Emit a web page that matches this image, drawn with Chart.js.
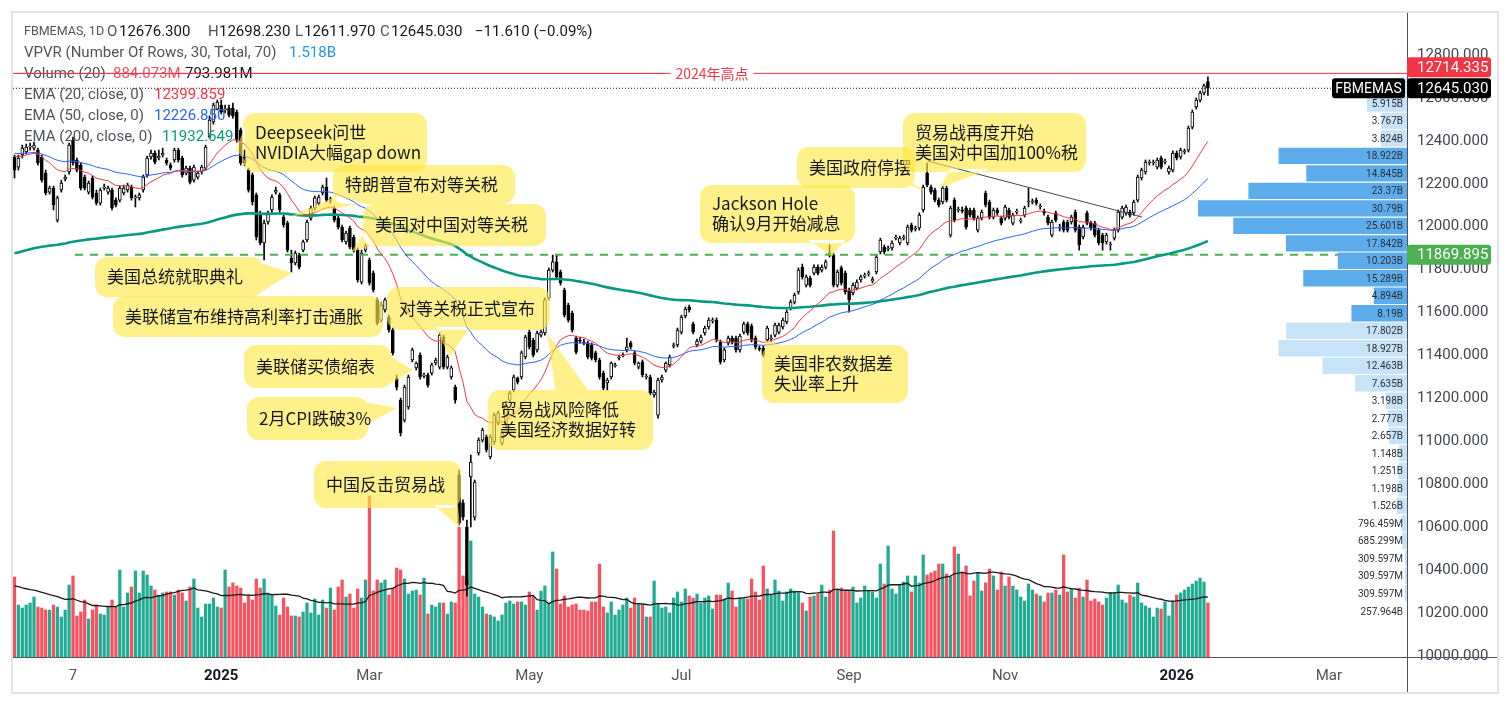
<!DOCTYPE html>
<html>
<head>
<meta charset="utf-8">
<script src="https://cdn.jsdelivr.net/npm/chart.js@4.4.1/dist/chart.umd.min.js"></script>
<style>
  html, body { margin: 0; padding: 0; background: #ffffff; overflow: hidden; }
  canvas { display: block; background: #ffffff; }
</style>
</head>
<body>
<canvas id="chart" width="1509" height="705"></canvas>
<script>
// Daily OHLC (one value per trading day, left to right)
const opens = [12325,12278,12334,12348,12371,12366,12357,12325,12250,12161,
12180,12031,12171,12222,12255,12404,12311,12287,12231,12161,
12227,12157,12110,12180,12161,12171,12124,12124,12157,12171,
12185,12134,12134,12171,12241,12325,12343,12320,12334,12311,
12287,12311,12357,12320,12250,12273,12217,12231,12255,12273,
12418,12488,12548,12567,12544,12553,12553,12534,12450,12325,
12264,12241,12148,12064,11924,12022,12078,12161,12148,12045,
12017,11854,11831,11868,11891,11938,12040,12087,12110,12157,
12185,12124,12087,12040,11998,11929,11994,11952,11891,11742,
11891,11845,11784,11659,11565,11612,11579,11519,11295,11192,
11099,11160,11379,11342,11402,11304,11309,11318,11365,11346,
11486,11346,11300,11253,10843,10713,10601,10834,10647,10946,
11006,11020,10927,10997,11085,10992,11076,11192,11239,11295,
11300,11393,11509,11472,11426,11495,11505,11668,11798,11836,
11789,11705,11635,11598,11481,11472,11463,11458,11449,11412,
11379,11318,11272,11300,11351,11388,11398,11426,11458,11412,
11346,11370,11300,11300,11216,11122,11286,11332,11356,11444,
11449,11509,11584,11626,11547,11449,11467,11505,11533,11561,
11565,11463,11379,11458,11481,11481,11426,11509,11547,11537,
11481,11435,11435,11472,11477,11495,11509,11533,11556,11621,
11649,11696,11812,11728,11761,11784,11812,11798,11812,11877,
11868,11728,11808,11784,11705,11691,11714,11752,11770,11780,
11747,11789,11882,11905,11896,11901,11947,11924,11947,11924,
12008,11989,11994,12078,12250,12185,12171,12124,12115,12180,
11961,12124,12078,12078,12087,12078,12078,11984,12040,12157,
12115,12045,12078,12040,12040,12078,12017,12068,12026,12054,
12115,12115,12124,12092,12073,12045,11961,12064,11994,12022,
12022,12022,12068,11998,11952,12064,12017,12017,11984,11961,
11929,11915,11947,11984,12045,12064,12068,12064,12124,12227,
12255,12297,12297,12278,12320,12301,12255,12264,12343,12325,
12348,12357,12464,12558,12590,12623,12676.3];

const highs = [12334,12334,12380,12385,12390,12394,12366,12334,12264,12189,
12189,12143,12217,12241,12390,12418,12320,12297,12241,12213,
12236,12171,12180,12199,12189,12180,12134,12189,12194,12203,
12194,12148,12157,12241,12329,12357,12353,12357,12366,12320,
12297,12366,12366,12329,12283,12283,12287,12259,12287,12380,
12516,12576,12590,12590,12567,12567,12576,12544,12460,12357,
12273,12250,12157,12073,12031,12073,12148,12185,12157,12054,
12026,11891,11887,11877,11938,12031,12096,12143,12148,12194,
12227,12138,12096,12050,12008,11980,12003,11961,11901,11891,
11919,11854,11794,11668,11649,11668,11588,11528,11309,11202,
11262,11309,11435,11370,11412,11318,11318,11365,11388,11505,
11495,11402,11351,11262,10866,10727,10633,10936,10820,11016,
11062,11030,11030,11132,11141,11048,11178,11234,11309,11300,
11421,11495,11519,11481,11514,11519,11668,11808,11868,11868,
11798,11714,11644,11607,11491,11486,11477,11467,11458,11421,
11388,11328,11295,11370,11365,11402,11412,11481,11467,11421,
11370,11379,11314,11309,11239,11295,11309,11370,11402,11458,
11528,11588,11626,11635,11556,11477,11495,11537,11575,11575,
11575,11472,11435,11491,11491,11491,11500,11556,11556,11547,
11491,11444,11444,11537,11495,11551,11551,11575,11612,11659,
11691,11808,11826,11775,11770,11822,11822,11822,11845,11915,
11877,11798,11817,11794,11714,11738,11752,11775,11784,11794,
11766,11868,11947,11915,11910,11934,11961,11956,11961,12008,
12017,12003,12064,12194,12297,12194,12180,12134,12189,12189,
12096,12134,12092,12092,12096,12087,12087,12050,12078,12166,
12124,12087,12087,12050,12101,12087,12064,12082,12040,12096,
12180,12129,12134,12106,12082,12054,12031,12073,12012,12031,
12031,12054,12078,12008,12008,12073,12026,12026,11994,11970,
11970,11929,11994,12078,12096,12101,12078,12124,12241,12273,
12311,12311,12311,12320,12329,12315,12283,12353,12353,12366,
12362,12469,12544,12600,12632,12665,12698.23];

const lows = [12227,12264,12320,12339,12357,12357,12287,12208,12148,12152,
12078,12022,12161,12213,12245,12287,12255,12171,12171,12152,
12129,12101,12101,12171,12152,12078,12092,12115,12148,12161,
12124,12092,12124,12161,12231,12315,12292,12311,12325,12287,
12264,12301,12301,12231,12241,12199,12208,12222,12245,12264,
12413,12478,12544,12525,12530,12511,12506,12394,12287,12283,
12161,12101,11938,11915,11845,12012,12068,12152,12068,11998,
11882,11789,11822,11803,11882,11929,12031,12078,12101,12148,
12115,12110,12022,11989,11929,11919,11896,11882,11742,11733,
11882,11728,11696,11542,11556,11602,11509,11402,11239,11025,
11090,11150,11370,11332,11290,11295,11253,11309,11356,11337,
11337,11337,11290,11178,10610,10633,10279,10601,10633,10936,
10997,10950,10918,10987,11076,10983,11067,11183,11230,11267,
11290,11384,11430,11393,11416,11486,11495,11659,11789,11756,
11728,11579,11556,11509,11407,11458,11449,11384,11379,11370,
11290,11239,11239,11290,11346,11379,11393,11416,11430,11356,
11337,11300,11290,11216,11206,11108,11276,11323,11346,11435,
11440,11500,11575,11602,11500,11440,11458,11495,11523,11551,
11463,11360,11370,11449,11454,11416,11416,11500,11495,11463,
11430,11421,11393,11463,11467,11486,11500,11523,11547,11612,
11640,11686,11756,11719,11719,11775,11775,11789,11803,11859,
11719,11719,11728,11686,11602,11682,11705,11742,11761,11770,
11738,11780,11873,11873,11887,11891,11938,11915,11938,11915,
11975,11980,11984,12068,12185,12152,12115,12092,12106,12115,
11952,12022,12068,12064,11989,12045,12031,11975,12031,12092,
12036,12036,12054,12008,12031,12036,12008,12059,12017,12045,
12092,12106,12101,12082,12054,12008,11952,12022,11980,11975,
11975,12012,11975,11891,11943,12008,11984,11952,11915,11891,
11919,11891,11938,11975,12036,12054,12045,12054,12115,12217,
12245,12287,12287,12269,12269,12292,12245,12255,12311,12315,
12339,12348,12455,12548,12581,12614,12611.97];

const closes = [12264,12320,12366,12371,12376,12380,12297,12217,12157,12180,
12101,12134,12203,12231,12380,12297,12264,12180,12180,12203,
12138,12110,12171,12185,12180,12087,12101,12180,12180,12194,
12134,12138,12148,12231,12320,12343,12301,12329,12343,12297,
12273,12357,12311,12241,12273,12208,12278,12250,12278,12371,
12497,12567,12581,12534,12548,12520,12516,12404,12297,12297,
12171,12115,11952,11924,12017,12064,12138,12171,12078,12008,
11891,11831,11877,11812,11929,12022,12087,12134,12138,12185,
12124,12129,12031,11998,11938,11970,11905,11891,11752,11877,
11910,11738,11705,11551,11635,11659,11519,11412,11253,11039,
11253,11300,11426,11365,11300,11309,11262,11356,11379,11495,
11346,11393,11342,11192,10619,10647,10330,10904,10810,11006,
11053,10960,11020,11122,11132,11039,11169,11225,11300,11276,
11412,11486,11440,11402,11505,11509,11659,11798,11836,11766,
11738,11588,11565,11519,11416,11467,11458,11393,11388,11379,
11300,11248,11286,11365,11356,11393,11402,11440,11440,11365,
11365,11309,11304,11225,11230,11286,11300,11365,11393,11449,
11519,11579,11616,11612,11509,11467,11486,11528,11565,11565,
11472,11370,11426,11481,11463,11426,11491,11547,11505,11472,
11440,11430,11402,11528,11481,11542,11542,11565,11602,11649,
11682,11798,11766,11766,11728,11812,11784,11812,11836,11868,
11728,11789,11738,11696,11659,11728,11742,11766,11775,11784,
11756,11859,11938,11882,11901,11924,11952,11947,11952,11998,
11984,11994,12054,12185,12194,12161,12124,12101,12180,12124,
12087,12031,12082,12073,11998,12054,12040,12040,12068,12101,
12045,12078,12064,12017,12092,12045,12054,12073,12031,12087,
12120,12120,12110,12096,12064,12017,12022,12031,11998,11984,
11984,12045,11984,11915,11998,12017,11994,11961,11924,11924,
11961,11919,11984,12068,12087,12092,12054,12115,12231,12264,
12301,12301,12301,12311,12278,12306,12273,12343,12320,12357,
12353,12460,12534,12590,12623,12656.64,12645.03];

// Daily volume, in millions
const volumes = [1176,764,720,764,794,882,735,720,691,691,
764,735,588,691,1058,1191,603,662,838,559,
691,764,632,617,735,838,735,1279,735,941,
1029,1264,941,1264,1205,1044,985,911,941,956,
956,911,985,941,823,1029,1147,720,588,779,
779,867,735,720,1279,1029,1088,1044,1014,794,
911,838,1147,1014,1147,941,911,750,617,867,
735,603,603,588,662,794,647,853,617,838,
720,1014,691,1029,1132,882,926,720,1000,867,
1132,2367,970,1132,1088,1132,911,1014,1308,1279,
1147,926,970,985,911,1161,632,764,735,794,
794,632,809,794,1911,1191,1132,1705,926,882,
735,632,617,588,529,617,794,823,779,809,
809,764,956,882,691,970,1044,794,1544,1294,
779,897,735,764,779,691,691,676,809,809,
1367,735,647,809,617,691,764,867,720,867,
779,764,588,588,1117,779,720,735,647,867,
956,809,1000,897,867,926,794,867,897,706,
911,911,853,1088,970,735,867,853,853,1147,
956,838,1338,1000,911,1132,970,823,956,1000,
970,941,794,676,882,897,926,1058,882,985,
1852,985,1014,970,970,1029,794,867,1044,970,
956,867,1367,1073,1632,1000,926,1058,1103,1191,
956,1191,1088,1499,1205,1235,1264,1367,1367,1220,
1176,1617,1514,1250,1338,897,1117,1235,970,1088,
1294,1191,985,1250,1044,1176,1044,985,882,823,
1073,985,926,897,809,941,941,985,911,1499,
956,1000,867,1014,882,1132,823,853,809,764,
867,941,941,1058,838,794,911,882,1088,794,
750,720,588,720,706,809,603,809,911,941,
985,1029,1073,1117,1161,1103,793.981];

// Indicator values just before the first visible bar
const ema20Seed = 12334;
const ema50Seed = 12345;
const ema200Seed = 11872;
const volMaSeed = 1040;

// Time axis labels (bar index -> label)
const tickIdx = [15, 53, 91, 132, 171, 214, 254, 298, 337];
const tickText = ['7', '2025', 'Mar', 'May', 'Jul', 'Sep', 'Nov', '2026', 'Mar'];
const priceTicks = [10000, 10200, 10400, 10600, 10800, 11000, 11200, 11400, 11600, 11800, 12000, 12200, 12400, 12600, 12800];

// Volume profile (visible range, 30 rows): row centre price and volume in billions
const profRows = [12656, 12574.5, 12493, 12411.5, 12330, 12248.5, 12167, 12085.5, 12004, 11922.5,
  11841, 11759.5, 11678, 11596.5, 11515, 11433.5, 11352, 11270.5, 11189, 11107.5,
  11026, 10944.5, 10863, 10781.5, 10700, 10618.5, 10537, 10455.5, 10374, 10292.5];
const profVol = [1.518, 5.915, 3.767, 3.824, 18.922, 14.845, 23.37, 30.79, 25.601, 17.842,
  10.203, 15.289, 4.894, 8.19, 17.802, 18.927, 12.463, 7.635, 3.198, 2.777,
  2.657, 1.148, 1.251, 1.198, 1.526, 0.796459, 0.685299, 0.309597, 0.309597, 0.309597];
const valueAreaRows = [4, 13];
const profTotalText = '257.964B';

// Horizontal levels and the drawn trend line
const high2024 = 12714.335;
const supportLevel = 11869.895;
const supportStartIdx = 15.5;
const trendIdx = [234.2, 289.1];
const trendPrice = [12306, 12045];

// Legend texts as shown in the chart header
const legendEma = ['12399.859', '12226.850', '11932.649'];
const legendVpvr = '1.518B';
const legendVolMa = '884.073M';

// Callouts: box [x, y, w, h], text lines, tail [base1, tip, base2]
const callouts = [
  { box: [243, 113, 184, 59], lines: ['Deepseek问世', 'NVIDIA大幅gap down'], tail: [[245, 126], [236, 150], [245, 160]] },
  { box: [333, 165, 182, 39], lines: ['特朗普宣布对等关税'], tail: [[338, 196], [289, 217], [364, 203]] },
  { box: [363, 204, 183, 42], lines: ['美国对中国对等关税'], tail: [[365, 232], [351, 252], [374, 245]] },
  { box: [95, 257, 168, 40], lines: ['美国总统就职典礼'], tail: [[258, 262], [292, 273], [258, 294]] },
  { box: [113, 296, 270, 41], lines: ['美联储宣布维持高利率打击通胀'], tail: null },
  { box: [387, 287, 163, 43], lines: ['对等关税正式宣布'], tail: [[436, 327], [449, 357], [470, 327]] },
  { box: [244, 345, 148, 43], lines: ['美联储买债缩表'], tail: [[388, 355], [413, 370], [388, 385]] },
  { box: [247, 397, 121, 43], lines: ['2月CPI跌破3%'], tail: [[364, 402], [397, 408], [364, 426]] },
  { box: [314, 461, 147, 47], lines: ['中国反击贸易战'], tail: [[434, 505], [460, 528], [458, 505]] },
  { box: [488, 390, 165, 60], lines: ['贸易战风险降低', '美国经济数据好转'], tail: [[556, 393], [547, 333], [590, 393]] },
  { box: [700, 185, 155, 58], lines: ['Jackson Hole', '确认9月开始减息'], tail: [[808, 240], [832, 256], [845, 240]] },
  { box: [797, 147, 118, 41], lines: ['美国政府停摆'], tail: [[905, 178], [926, 192], [912, 186]] },
  { box: [903, 113, 183, 59], lines: ['贸易战再度开始', '美国对中国加100%税'], tail: [[950, 169], [940, 188], [990, 169]] },
  { box: [762, 345, 146, 58], lines: ['美国非农数据差', '失业率上升'], tail: [[768, 350], [764, 340], [792, 348]] }
];

const FONT = 'Roboto, "Liberation Sans", sans-serif';
const CJK = '"Noto Sans CJK SC", "Noto Sans", sans-serif';
const UP_VOL = '#22AB94';
const DOWN_VOL = '#F7525F';

function ema(values, period, seed) {
  const k = 2 / (period + 1);
  let prev = seed;
  return values.map(v => { prev = prev + k * (v - prev); return prev; });
}

function sma(values, n, seed) {
  return values.map((v, i) => {
    let s = 0;
    for (let j = i - n + 1; j <= i; j++) s += j < 0 ? seed : values[j];
    return s / n;
  });
}

function fmtProf(v) {
  return v >= 1 ? parseFloat(v.toFixed(3)) + 'B' : (v * 1000).toFixed(3) + 'M';
}

const idx = closes.map((c, i) => i);
const isUp = closes.map((c, i) => c >= opens[i]);
const ema20 = ema(closes, 20, ema20Seed);
const ema50 = ema(closes, 50, ema50Seed);
const ema200 = ema(closes, 200, ema200Seed);
const volMa = sma(volumes, 20, volMaSeed);
const last = closes.length - 1;
const lastClose = closes[last];
const change = lastClose - closes[last - 1];
const changePct = change / closes[last - 1] * 100;

const X_MIN = -0.385, X_MAX = 357.05;
const Y_MIN = 9995.3, Y_MAX = 12995.7;

function roundRect(ctx, x, y, w, h, r) {
  ctx.moveTo(x + r, y);
  ctx.arcTo(x + w, y, x + w, y + h, r);
  ctx.arcTo(x + w, y + h, x, y + h, r);
  ctx.arcTo(x, y + h, x, y, r);
  ctx.arcTo(x, y, x + w, y, r);
  ctx.closePath();
}

const overlay = {
  id: 'overlay',
  afterDraw(chart) {
    const ctx = chart.ctx;
    const ys = chart.scales.y;
    const yp = chart.scales.yProf;
    ctx.save();

    // frame and scale borders
    ctx.strokeStyle = '#E0E3EB';
    ctx.lineWidth = 2;
    ctx.strokeRect(12, 12, 1486, 681);
    ctx.strokeStyle = '#50535E';
    ctx.lineWidth = 1;
    ctx.beginPath();
    ctx.moveTo(13, 657.5); ctx.lineTo(1497, 657.5);
    ctx.moveTo(1407.5, 13); ctx.lineTo(1407.5, 692);
    ctx.stroke();

    // "2024年高点" label on the red line
    const yHigh = ys.getPixelForValue(high2024);
    ctx.font = '14px ' + CJK;
    ctx.textBaseline = 'middle';
    ctx.textAlign = 'center';
    const hw = ctx.measureText('2024年高点').width / 2 + 5;
    ctx.fillStyle = '#ffffff';
    ctx.fillRect(712 - hw, yHigh - 8, hw * 2, 16);
    ctx.fillStyle = '#F23645';
    ctx.fillText('2024年高点', 712, yHigh);

    // profile row labels
    ctx.font = '10px ' + FONT;
    ctx.textAlign = 'right';
    ctx.fillStyle = '#2A2E39';
    profRows.forEach((p, i) => {
      ctx.fillText(fmtProf(profVol[i]), 1403, yp.getPixelForValue(p) + 1);
    });
    ctx.fillText(profTotalText, 1403, yp.getPixelForValue(profRows[profRows.length - 1]) + 19);

    // callouts
    ctx.textAlign = 'left';
    callouts.forEach(c => {
      const [bx, by, bw, bh] = c.box;
      ctx.beginPath();
      roundRect(ctx, bx, by, bw, bh, 12);
      if (c.tail) {
        ctx.moveTo(c.tail[0][0], c.tail[0][1]);
        ctx.lineTo(c.tail[1][0], c.tail[1][1]);
        ctx.lineTo(c.tail[2][0], c.tail[2][1]);
        ctx.closePath();
      }
      ctx.fillStyle = 'rgba(255, 232, 70, 0.64)';
      ctx.fill('nonzero');
      ctx.fillStyle = '#131722';
      ctx.font = '17px ' + CJK;
      const n = c.lines.length;
      c.lines.forEach((t, k) => {
        ctx.fillText(t, bx + 12, by + bh / 2 + (k - (n - 1) / 2) * 20);
      });
    });

    // price scale labels
    function axisBox(price, bg, text, yOverride) {
      const yy = yOverride !== undefined ? yOverride : ys.getPixelForValue(price);
      ctx.beginPath();
      roundRect(ctx, 1407, yy - 10, 84, 20, 3);
      ctx.fillStyle = bg;
      ctx.fill();
      ctx.fillStyle = '#ffffff';
      ctx.font = '15px ' + FONT;
      ctx.textAlign = 'left';
      ctx.fillText(text, 1417, yy + 1);
    }
    axisBox(supportLevel, '#4CAF50', supportLevel.toFixed(3));
    const yLast = ys.getPixelForValue(lastClose);
    axisBox(high2024, '#F23645', high2024.toFixed(3), yLast - 21);
    axisBox(lastClose, '#000000', lastClose.toFixed(3));
    ctx.beginPath();
    roundRect(ctx, 1332, yLast - 10, 73, 20, 3);
    ctx.fillStyle = '#000000';
    ctx.fill();
    ctx.fillStyle = '#ffffff';
    ctx.font = '14px ' + FONT;
    ctx.textAlign = 'center';
    ctx.fillText('FBMEMAS', 1368.5, yLast + 1);

    // legend
    ctx.textAlign = 'left';
    const grey = '#50535E', dark = '#131722';
    const labelFont = '15px ' + FONT, valueFont = '15px ' + FONT;
    function part(t, x, y, col, f) { ctx.font = f || valueFont; ctx.fillStyle = col; ctx.fillText(t, x, y); }
    const l1 = 32;
    part('FBMEMAS, 1D', 24, l1, grey, '12.5px ' + FONT);
    part('O', 107, l1, grey); part(opens[last].toFixed(3), 119, l1, dark);
    part('H', 208, l1, grey); part(highs[last].toFixed(3), 219, l1, dark);
    part('L', 295, l1, grey); part(lows[last].toFixed(3), 304, l1, dark);
    part('C', 380, l1, grey); part(lastClose.toFixed(3), 391, l1, dark);
    part('\u2212' + Math.abs(change).toFixed(3) + ' (\u2212' + Math.abs(changePct).toFixed(2) + '%)', 475, l1, dark);
    part('VPVR (Number Of Rows, 30, Total, 70)', 24, 53, grey, labelFont);
    part(legendVpvr, 289, 53, '#2196F3');
    part('Volume (20)', 24, 74, grey, labelFont);
    part(legendVolMa, 113, 74, '#F7525F');
    part(volumes[last].toFixed(3) + 'M', 185, 74, dark);
    part('EMA (20, close, 0)', 24, 95, grey, labelFont); part(legendEma[0], 154, 95, '#F23645');
    part('EMA (50, close, 0)', 24, 116, grey, labelFont); part(legendEma[1], 154, 116, '#2962FF');
    part('EMA (200, close, 0)', 24, 137, grey, labelFont); part(legendEma[2], 162, 137, '#089981');

    // red 2024 high line passes over the legend
    ctx.strokeStyle = '#F23645';
    ctx.beginPath();
    ctx.moveTo(13, Math.round(yHigh) + 0.5);
    ctx.lineTo(664, Math.round(yHigh) + 0.5);
    ctx.stroke();
    ctx.restore();
  }
};

const chart = new Chart(document.getElementById('chart'), {
  type: 'bar',
  data: {
    datasets: [
      {
        type: 'bar', label: 'VPVR', indexAxis: 'y', xAxisID: 'xProf', yAxisID: 'yProf',
        data: profRows.map((p, i) => ({ x: profVol[i], y: p })),
        backgroundColor: profRows.map((p, i) => (i >= valueAreaRows[0] && i <= valueAreaRows[1]) ? '#5DADEC' : '#C6E3F7'),
        barPercentage: 1, categoryPercentage: 0.94, grouped: false, borderWidth: 0, order: 1
      },
      {
        type: 'line', label: 'EMA20', xAxisID: 'x', yAxisID: 'y',
        data: idx.map(i => ({ x: i, y: ema20[i] })),
        borderColor: '#F23645', borderWidth: 1, pointRadius: 0, tension: 0, order: 2
      },
      {
        type: 'line', label: 'EMA50', xAxisID: 'x', yAxisID: 'y',
        data: idx.map(i => ({ x: i, y: ema50[i] })),
        borderColor: '#2962FF', borderWidth: 1, pointRadius: 0, tension: 0, order: 3
      },
      {
        type: 'line', label: 'EMA200', xAxisID: 'x', yAxisID: 'y',
        data: idx.map(i => ({ x: i, y: ema200[i] })),
        borderColor: '#089981', borderWidth: 2.6, pointRadius: 0, tension: 0, order: 4
      },
      {
        type: 'line', label: '2024 high', xAxisID: 'x', yAxisID: 'y',
        data: [{ x: X_MIN, y: high2024 }, { x: X_MAX, y: high2024 }],
        borderColor: '#F23645', borderWidth: 1, pointRadius: 0, order: 4
      },
      {
        type: 'line', label: 'last', xAxisID: 'x', yAxisID: 'y',
        data: [{ x: X_MIN, y: lastClose }, { x: X_MAX, y: lastClose }],
        borderColor: '#131722', borderWidth: 1, borderDash: [1, 2], pointRadius: 0, order: 4
      },
      {
        type: 'line', label: 'support', xAxisID: 'x', yAxisID: 'y',
        data: [{ x: supportStartIdx, y: supportLevel }, { x: X_MAX, y: supportLevel }],
        borderColor: '#4CAF50', borderWidth: 2, borderDash: [8, 7], pointRadius: 0, order: 4
      },
      {
        type: 'line', label: 'trend', xAxisID: 'x', yAxisID: 'y',
        data: [{ x: trendIdx[0], y: trendPrice[0] }, { x: trendIdx[1], y: trendPrice[1] }],
        borderColor: '#434651', borderWidth: 1, pointRadius: 0, order: 4
      },
      {
        type: 'bar', label: 'body', xAxisID: 'x', yAxisID: 'y',
        data: idx.map(i => ({ x: i, y: [opens[i], closes[i]] })),
        backgroundColor: idx.map(i => isUp[i] ? '#ffffff' : '#000000'),
        borderColor: '#000000', borderWidth: 1, borderSkipped: false,
        barThickness: 3, minBarLength: 1, grouped: false, order: 5
      },
      {
        type: 'bar', label: 'wick', xAxisID: 'x', yAxisID: 'y',
        data: idx.map(i => ({ x: i, y: [lows[i], highs[i]] })),
        backgroundColor: '#000000', barThickness: 1, grouped: false, order: 6
      },
      {
        type: 'line', label: 'Vol MA', xAxisID: 'x', yAxisID: 'yVol',
        data: idx.map(i => ({ x: i, y: volMa[i] })),
        borderColor: '#1a1a1a', borderWidth: 1.3, pointRadius: 0, tension: 0, order: 9
      },
      {
        type: 'bar', label: 'Volume', xAxisID: 'x', yAxisID: 'yVol',
        data: idx.map(i => ({ x: i, y: volumes[i] })),
        backgroundColor: idx.map(i => isUp[i] ? UP_VOL : DOWN_VOL),
        barThickness: 2.6, grouped: false, order: 10
      }
    ]
  },
  options: {
    responsive: false,
    animation: false,
    events: [],
    layout: { padding: { left: 13, top: 13, right: 12, bottom: 13 } },
    plugins: { legend: { display: false }, tooltip: { enabled: false } },
    scales: {
      x: {
        type: 'linear', min: X_MIN, max: X_MAX, offset: false,
        grid: { display: false, drawTicks: false }, border: { display: false },
        afterBuildTicks: s => { s.ticks = tickIdx.map(v => ({ value: v })); },
        afterFit: s => { s.height = 35; s.paddingLeft = 0; s.paddingRight = 0; },
        ticks: {
          autoSkip: false, maxRotation: 0, padding: 10,
          color: ctx => /^20/.test(tickText[ctx.index]) ? '#131722' : '#50535E',
          font: ctx => ({ family: FONT, size: 15, weight: /^20/.test(tickText[ctx.index]) ? 'bold' : 'normal' }),
          callback: (v, i) => tickText[i]
        }
      },
      y: {
        type: 'linear', position: 'right', min: Y_MIN, max: Y_MAX, offset: false,
        grid: { display: false, drawTicks: false }, border: { display: false },
        afterBuildTicks: s => { s.ticks = priceTicks.map(v => ({ value: v })); },
        afterFit: s => { s.width = 90; s.paddingTop = 0; s.paddingBottom = 0; },
        ticks: { padding: 10, color: '#434651', font: { family: FONT, size: 15 }, callback: v => v.toFixed(3) }
      },
      yVol: { type: 'linear', display: false, offset: false, min: 0, max: 9467 },
      yProf: { type: 'linear', display: false, offset: false, min: Y_MIN, max: Y_MAX },
      xProf: { type: 'linear', display: false, offset: false, min: 0, max: 205.4, reverse: true }
    }
  },
  plugins: [overlay]
});
</script>
</body>
</html>
